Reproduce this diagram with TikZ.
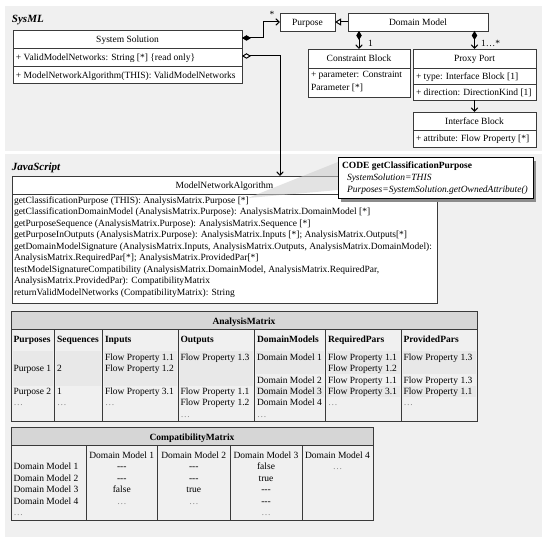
\documentclass[tikz,border=0pt]{standalone}
\usepackage{fontspec}
\setmainfont{Liberation Serif}
\usetikzlibrary{arrows.meta,calc}
\definecolor{panelgray}{HTML}{F0F0F0}
\definecolor{hdrgray}{HTML}{D6D6D6}
\definecolor{bandgray}{HTML}{E8E8E8}
\definecolor{lncol}{HTML}{3A3A3A}
\definecolor{dotcol}{HTML}{888888}
\newcommand\TL[4]{\node[anchor=base west] (#1) at (#2,{#3+3.3}) {#4};}
\newcommand\TC[4]{\node[anchor=base] (#1) at (#2,{#3+3.3}) {#4};}
\newcommand\mydots{\textcolor{dotcol}{\ldots}}
\newcommand\mydash{-{}-{}-}
\begin{document}
\begin{tikzpicture}[x=1pt,y=-1pt,
  every node/.style={inner sep=0pt,outer sep=0pt,font=\fontsize{9.5}{11.5}\selectfont},
  umlbox/.style={draw=lncol,line width=0.9pt,fill=white,rectangle,anchor=north west},
  conn/.style={draw=black,line width=1pt},
  barb/.style={-{Straight Barb[length=3.5pt,width=6.5pt]}},
  comp/.style={{Diamond[length=9pt,width=5.5pt]}-{Straight Barb[length=3.5pt,width=6.5pt]}},
  aggr/.style={{Diamond[open,length=9pt,width=5.5pt,fill=white]}-{Straight Barb[length=3.5pt,width=6.5pt]}},
  gen/.style={{Triangle[open,length=6pt,width=7pt,fill=white]}-},
  sect/.style={anchor=base west,font=\bfseries\itshape\fontsize{11}{13}\selectfont},
  bold/.style={font=\bfseries\fontsize{9.5}{11.5}\selectfont},
  tline/.style={draw=lncol,line width=1pt}
]
\useasboundingbox (0,0) rectangle (550,545);
% panels
\fill[panelgray] (5,6) rectangle (542,151);
\fill[panelgray] (5,154) rectangle (542,537);

% ---------------- SysML ----------------
\node[sect] (sysml) at (12,23) {SysML};

\node[umlbox,minimum width=229pt,minimum height=53pt] (ss) at (13,30) {};
\draw[lncol,line width=0.9pt] (13,48) -- (242,48) (13,66) -- (242,66);
\TC{ssT}{127.5}{39}{System Solution}
\TL{ssA}{16}{57}{+ ValidModelNetworks: String [*] \{read only\}}
\TL{ssO}{16}{75}{+ ModelNetworkAlgorithm(THIS): ValidModelNetworks}

\node[umlbox,minimum width=55pt,minimum height=18pt] (purpose) at (280,13) {};
\TC{purT}{307.5}{22}{Purpose}
\node[umlbox,minimum width=140pt,minimum height=18pt] (dm) at (348,13) {};
\TC{dmT}{418}{22}{Domain Model}

\node[umlbox,minimum width=102pt,minimum height=48pt] (cb) at (308,49) {};
\draw[lncol,line width=0.9pt] (308,68) -- (410,68);
\TC{cbT}{359}{58.5}{Constraint Block}
\TL{cbA}{311}{74}{+ parameter: Constraint}
\TL{cbB}{311}{87}{Parameter [*]}

\node[umlbox,minimum width=123pt,minimum height=51pt] (pp) at (413,49) {};
\draw[lncol,line width=0.9pt] (413,68) -- (536,68) (413,84) -- (536,84);
\TC{ppT}{474.5}{58.5}{Proxy Port}
\TL{ppA}{416}{76}{+ type: Interface Block [1]}
\TL{ppB}{416}{92}{+ direction: DirectionKind [1]}

\node[umlbox,minimum width=123pt,minimum height=35pt] (ib) at (413,112) {};
\draw[lncol,line width=0.9pt] (413,130) -- (536,130);
\TC{ibT}{474.5}{121}{Interface Block}
\TL{ibA}{416}{138}{+ attribute: Flow Property [*]}

% ---------------- JavaScript ----------------
\node[sect] (jsl) at (12,171) {JavaScript};
\node[umlbox,minimum width=425pt,minimum height=127pt] (js) at (12,176) {};
\draw[lncol,line width=0.9pt] (12,194) -- (437,194);
\TC{jsT}{224.5}{185}{ModelNetworkAlgorithm}
\TL{m1}{14}{200}{getClassificationPurpose (THIS): AnalysisMatrix.Purpose [*]}
\TL{m2}{14}{211.5}{getClassificationDomainModel (AnalysisMatrix.Purpose): AnalysisMatrix.DomainModel [*]}
\TL{m3}{14}{223}{getPurposeSequence (AnalysisMatrix.Purpose): AnalysisMatrix.Sequence [*]}
\TL{m4}{14}{234.5}{getPurposeInOutputs (AnalysisMatrix.Purpose): AnalysisMatrix.Inputs [*]; AnalysisMatrix.Outputs[*]}
\TL{m5}{14}{246}{getDomainModelSignature (AnalysisMatrix.Inputs, AnalysisMatrix.Outputs, AnalysisMatrix.DomainModel):}
\TL{m6}{14}{257.5}{AnalysisMatrix.RequiredPar[*]; AnalysisMatrix.ProvidedPar[*]}
\TL{m7}{14}{269}{testModelSignatureCompatibility (AnalysisMatrix.DomainModel, AnalysisMatrix.RequiredPar,}
\TL{m8}{14}{280.5}{AnalysisMatrix.ProvidedPar): CompatibilityMatrix}
\TL{m9}{14}{292}{returnValidModelNetworks (CompatibilityMatrix): String}

% callout
\fill[gray!40,opacity=0.55] (338,162) -- (338,190) -- (248,198) -- cycle;
\fill[black!45] (341,161) rectangle (536,202);
\node[draw=black,line width=1pt,fill=white,anchor=north west,minimum width=195pt,minimum height=41pt] (code) at (338,158) {};
\node[anchor=base west,bold] (c1) at (342,{165+3.3}) {CODE getClassificationPurpose};
\node[anchor=base west,font=\itshape\fontsize{9.5}{11.5}\selectfont] (c2) at (347,{177+3.3}) {SystemSolution=THIS};
\node[anchor=base west,font=\itshape\fontsize{9.5}{11.5}\selectfont] (c3) at (347,{189+3.3}) {Purposes=SystemSolution.getOwnedAttribute()};

% ---------------- connectors ----------------
\draw[conn,comp] ($(ss.north east)+(0,8)$) -- ++(21,0) |- (purpose.west);
\node[anchor=center] (star) at (272,14) {*};
\draw[conn,aggr] ($(ss.north east)+(0,26)$) -| ($(js.north west)+(268,0)$);
\draw[conn,gen] (purpose.east) -- (dm.west);
\draw[conn,comp] (cb.north |- dm.south) -- (cb.north);
\draw[conn,comp] (pp.north |- dm.south) -- (pp.north);
\draw[conn,barb] (pp.south) -- (ib.north);
\node[anchor=west] (one) at (368,43) {1};
\node[anchor=west] (onestar) at (481,43) {1\ldots*};

% ---------------- AnalysisMatrix ----------------
\fill[hdrgray] (11,312) rectangle (477,330);
\fill[bandgray] (12.5,351) rectangle (53,385.6);
\fill[bandgray] (56,351) rectangle (101,385.6);
\fill[bandgray] (104,351) rectangle (176.5,385.6);
\fill[bandgray] (179.5,351) rectangle (253,385.6);
\fill[bandgray] (256,351) rectangle (324,374);
\fill[bandgray] (327,351) rectangle (399.5,374);
\fill[bandgray] (402.5,351) rectangle (475.5,374);
\fill[bandgray] (256,385.6) rectangle (324,397);
\fill[bandgray] (327,385.6) rectangle (399.5,397);
\fill[bandgray] (402.5,385.6) rectangle (475.5,397);
\draw[tline] (11,312) rectangle (477,422);
\draw[tline] (11,330) -- (477,330);
\foreach \cx in {54.5,102.5,178,254.5,325.5,401} \draw[tline] (\cx,330) -- (\cx,422);
\node[anchor=base,bold] (amT) at (244,{321+3.3}) {AnalysisMatrix};
\node[anchor=base west,bold] (h1) at (13.5,{339.5+3.3}) {Purposes};
\node[anchor=base west,bold] (h2) at (57,{339.5+3.3}) {Sequences};
\node[anchor=base west,bold] (h3) at (105,{339.5+3.3}) {Inputs};
\node[anchor=base west,bold] (h4) at (180.5,{339.5+3.3}) {Outputs};
\node[anchor=base west,bold] (h5) at (257,{339.5+3.3}) {DomainModels};
\node[anchor=base west,bold] (h6) at (328,{339.5+3.3}) {RequiredPars};
\node[anchor=base west,bold] (h7) at (403.5,{339.5+3.3}) {ProvidedPars};
% col 0
\TL{a01}{13.5}{368.3}{Purpose 1}
\TL{a02}{13.5}{391}{Purpose 2}
\TL{a03}{13.5}{402.6}{\mydots}
% col 1
\TL{a11}{57}{368.3}{2}
\TL{a12}{57}{391}{1}
\TL{a13}{57}{402.6}{\mydots}
% col 2
\TL{a21}{105}{357}{Flow Property 1.1}
\TL{a22}{105}{368.5}{Flow Property 1.2}
\TL{a23}{105}{391}{Flow Property 3.1}
\TL{a24}{105}{402.6}{\mydots}
% col 3
\TL{a31}{180.5}{357}{Flow Property 1.3}
\TL{a32}{180.5}{391}{Flow Property 1.1}
\TL{a33}{180.5}{402.6}{Flow Property 1.2}
\TL{a34}{180.5}{414.5}{\mydots}
% col 4
\TL{a41}{257}{357}{Domain Model 1}
\TL{a42}{257}{379.8}{Domain Model 2}
\TL{a43}{257}{391}{Domain Model 3}
\TL{a44}{257}{402.6}{Domain Model 4}
\TL{a45}{257}{414.5}{\mydots}
% col 5
\TL{a51}{328}{357}{Flow Property 1.1}
\TL{a52}{328}{368.5}{Flow Property 1.2}
\TL{a53}{328}{379.8}{Flow Property 1.1}
\TL{a54}{328}{391}{Flow Property 3.1}
\TL{a55}{328}{402.6}{\mydots}
% col 6
\TL{a61}{403.5}{357}{Flow Property 1.3}
\TL{a62}{403.5}{379.8}{Flow Property 1.3}
\TL{a63}{403.5}{391}{Flow Property 1.1}
\TL{a64}{403.5}{402.6}{\mydots}

% ---------------- CompatibilityMatrix ----------------
\fill[hdrgray] (11,428) rectangle (373,445.5);
\draw[tline] (11,428) rectangle (373,521);
\draw[tline] (11,445.5) -- (373,445.5);
\foreach \cx in {86,157.5,230,302} \draw[tline] (\cx,445.5) -- (\cx,521);
\node[anchor=base,bold] (cmT) at (192,{437+3.3}) {CompatibilityMatrix};
\TC{ch1}{121.75}{455}{Domain Model 1}
\TC{ch2}{193.75}{455}{Domain Model 2}
\TC{ch3}{266}{455}{Domain Model 3}
\TC{ch4}{337.5}{455}{Domain Model 4}
\TL{b01}{13.5}{466.5}{Domain Model 1}
\TL{b02}{13.5}{478}{Domain Model 2}
\TL{b03}{13.5}{489.5}{Domain Model 3}
\TL{b04}{13.5}{501}{Domain Model 4}
\TL{b05}{13.5}{512.5}{\mydots}
\TC{b11}{121.75}{466.5}{\mydash}
\TC{b12}{121.75}{478}{\mydash}
\TC{b13}{121.75}{489.5}{false}
\TC{b14}{121.75}{501}{\mydots}
\TC{b21}{193.75}{466.5}{\mydash}
\TC{b22}{193.75}{478}{\mydash}
\TC{b23}{193.75}{489.5}{true}
\TC{b24}{193.75}{501}{\mydots}
\TC{b31}{266}{466.5}{false}
\TC{b32}{266}{478}{true}
\TC{b33}{266}{489.5}{\mydash}
\TC{b34}{266}{501}{\mydash}
\TC{b35}{266}{512.5}{\mydots}
\TC{b41}{337.5}{466.5}{\mydots}
\end{tikzpicture}
\end{document}
